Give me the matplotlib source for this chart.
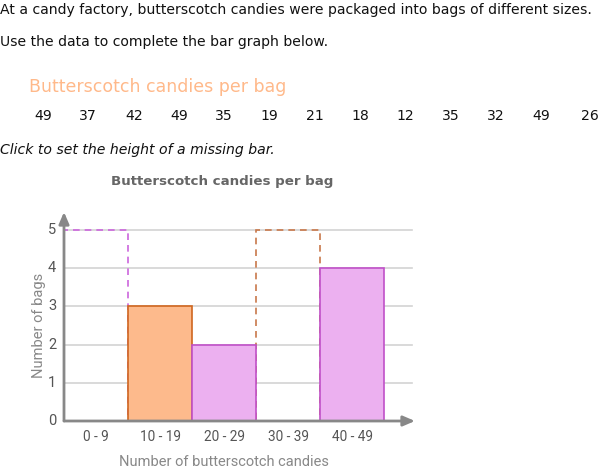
import matplotlib
matplotlib.use("Agg")
import matplotlib.pyplot as plt

# ---- data ----
categories = ["0 - 9", "10 - 19", "20 - 29", "30 - 39", "40 - 49"]
bar_heights = [0, 3, 2, 0, 4]
bar_kinds = ["missing", "orange", "purple", "missing", "purple"]
missing_outline_kind = ["purple", None, None, "orange", None]
placeholder_height = 5
yticks = [0, 1, 2, 3, 4, 5]
raw_values = [49, 37, 42, 49, 35, 19, 21, 18, 12, 35, 32, 49, 26]

W, H = 600, 469
fig = plt.figure(figsize=(W / 100, H / 100), dpi=100)

def fx(px):
    return px / W

def fy(py):
    return 1 - py / H

# ---- header text ----
fig.text(fx(0), fy(10), "At a candy factory, butterscotch candies were packaged into bags of different sizes.",
         fontsize=10.1, family="DejaVu Sans", color="#111111", va="center", ha="left")
fig.text(fx(0), fy(42), "Use the data to complete the bar graph below.",
         fontsize=10.1, family="DejaVu Sans", color="#111111", va="center", ha="left")
fig.text(fx(29), fy(87), "Butterscotch candies per bag",
         fontsize=12.5, family="DejaVu Sans", color="#FFB98A", va="center", ha="left")
num_x = [43, 88, 134, 179, 224, 269, 315, 360, 405, 451, 496, 541, 590]
for xp, v in zip(num_x, raw_values):
    fig.text(fx(xp), fy(116), str(v), fontsize=10.1, family="DejaVu Sans",
             color="#111111", va="center", ha="center")
fig.text(fx(0), fy(150), "Click to set the height of a missing bar.",
         fontsize=10.1, family="DejaVu Sans", style="italic", color="#111111",
         va="center", ha="left")

# ---- chart ----
x0, y0, x1, y1 = 64, 421, 415, 212
ax = fig.add_axes([fx(x0), fy(y0), (x1 - x0) / W, (y0 - y1) / H])
xmax = (x1 - x0) / 64.0
ymax = (y0 - y1) / 38.2
ax.set_xlim(0, xmax)
ax.set_ylim(0, ymax)
for s in ax.spines.values():
    s.set_visible(False)
ax.set_xticks([])
ax.set_yticks([])

# gridlines
for t in yticks[1:]:
    ax.plot([0, xmax - 0.05], [t, t], color="#D3D3D3", lw=1.2, zorder=1)

colors = {
    "orange": ("#FDBA8C", "#D0661F"),
    "purple": ("#ECB0F0", "#C050C8"),
}
dash_colors = {"purple": "#CC66DD", "orange": "#C8784A"}

for i, (h, kind) in enumerate(zip(bar_heights, bar_kinds)):
    if kind in colors:
        fc, ec = colors[kind]
        ax.bar(i, h, width=1, align="edge", color=fc, edgecolor=ec, lw=1.2, zorder=3)
    else:
        dc = dash_colors[missing_outline_kind[i]]
        ax.bar(i, placeholder_height, width=1, align="edge", fill=False,
               edgecolor=dc, lw=1.2, linestyle=(0, (4, 3)), zorder=2)

# axes with arrows
axis_col = "#888888"
ax.annotate("", xy=(xmax, 0), xytext=(0, 0),
            arrowprops=dict(arrowstyle="-|>,head_length=0.7,head_width=0.3",
                            color=axis_col, lw=2, shrinkA=0, shrinkB=0),
            annotation_clip=False, zorder=5)
ax.annotate("", xy=(0, ymax), xytext=(0, 0),
            arrowprops=dict(arrowstyle="-|>,head_length=0.7,head_width=0.3",
                            color=axis_col, lw=2, shrinkA=0, shrinkB=0),
            annotation_clip=False, zorder=5)

# tick labels
for t in yticks:
    ax.text(-0.12, t, str(t), ha="right", va="center", fontsize=10.5,
            family="Roboto", color="#555555")
for i, c in enumerate(categories):
    ax.text(i + 0.5, -0.42, c, ha="center", va="center", fontsize=9.8,
            family="Roboto", color="#555555")

fig.text(fx(39), fy(325), "Number of bags", rotation=90, ha="center", va="center",
         fontsize=10.5, family="Roboto", color="#888888")
fig.text(fx(224), fy(462), "Number of butterscotch candies", ha="center", va="center",
         fontsize=10.5, family="Roboto", color="#888888")
fig.text(fx(222), fy(182), "Butterscotch candies per bag", ha="center", va="center",
         fontsize=9.6, family="DejaVu Sans", weight="bold", color="#666666")

fig.savefig("out.png", dpi=100)
